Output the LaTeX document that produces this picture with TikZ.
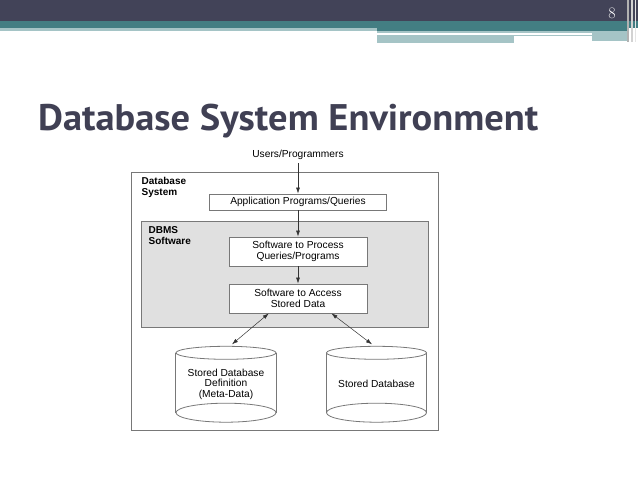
\documentclass[tikz,border=0pt]{standalone}
\usepackage{fontspec}
\setsansfont{Liberation Sans}
\newfontfamily\titlefont{PT Sans}
\usetikzlibrary{shapes.geometric,arrows.meta,positioning,backgrounds}
\definecolor{cDark}{RGB}{66,67,88}
\definecolor{cTeal}{RGB}{67,126,131}
\definecolor{cLight}{RGB}{165,196,198}
\definecolor{cTitle}{RGB}{64,64,84}
\definecolor{cPanel}{RGB}{224,224,224}
\definecolor{cEdge}{RGB}{120,120,120}
\tikzset{
  basebox/.style={rectangle,draw=cEdge,line width=0.8pt,align=center,
                  font=\sffamily\fontsize{10.2}{11.2}\selectfont,inner sep=0pt},
  progbox/.style={basebox,fill=white},
  framebox/.style={rectangle,draw=cEdge,line width=0.8pt,inner sep=0pt},
  storenode/.style={rectangle,align=center,inner sep=0pt,minimum width=100pt,
                    minimum height=75.5pt,
                    font=\sffamily\fontsize{10.2}{10.4}\selectfont},
  storeline/.style={draw=cEdge,line width=0.8pt,fill=white},
  lbl/.style={anchor=north west,align=left,inner sep=0pt,
              font=\sffamily\bfseries\fontsize{10}{11}\selectfont},
  arr/.style={-{Latex[length=6pt,width=4pt]},line width=0.6pt,black!80},
  dblarr/.style={{Latex[length=6pt,width=4pt]}-{Latex[length=6pt,width=4pt]},
                 line width=0.5pt,black!80}
}
% cylinder around a store node: top radius 6.5pt, bottom radius 9.5pt
\newcommand{\drawstore}[1]{%
  \path[storeline,draw=none] ([yshift=-6.5pt]#1.north west) rectangle ([yshift=9.5pt]#1.south east);
  \path[storeline] ([yshift=9.5pt]#1.south) ellipse [x radius=50pt,y radius=9.5pt];
  \draw[storeline] ([yshift=-6.5pt]#1.north west) -- ([yshift=9.5pt]#1.south west)
                   ([yshift=-6.5pt]#1.north east) -- ([yshift=9.5pt]#1.south east);
  \path[storeline] ([yshift=-6.5pt]#1.north) ellipse [x radius=50pt,y radius=6.5pt];
}

\begin{document}
\begin{tikzpicture}[x=1pt,y=-1pt]
  \useasboundingbox (0,0) rectangle (638,478);

  % Header bars
  \fill[cDark] (0,0) rectangle (638,21);
  \fill[cTeal] (0,21) rectangle (638,28);
  \fill[cLight] (0,28) rectangle (377,31);
  \fill[cTeal] (377,28) rectangle (627,31);
  \fill[cLight] (377,31) rectangle (627,36);
  \fill[white] (377,33.3) rectangle (592,35.3);
  \fill[cLight] (377,36) rectangle (514,43);
  \fill[cLight] (592,36) rectangle (627,41);
  \fill[gray!60] (627,0) rectangle (629,42);
  \fill[gray!35] (631,0) rectangle (633,42);
  \fill[gray!20] (635,0) rectangle (636,42);
  \node[text=white,font=\fontsize{16}{18}\selectfont] (pagenum) at (612,13) {8};

  % Title
  \node[anchor=base west,inner sep=0pt,text=cTitle,
        font=\titlefont\bfseries\fontsize{37}{42}\selectfont] (title) at (38,131)
        {\scalebox{1.04}[1]{Database System Environment}};

  % Frames
  \node[framebox,minimum width=307pt,minimum height=258pt] (dbsys) at (284.5,301) {};
  \node[framebox,fill=cPanel,minimum width=287pt,minimum height=106pt] (dbms) at (284.5,274) {};
  \node[lbl] (dbsyslbl) at (141.5,177) {Database\\System};
  \node[lbl] (dbmslbl) at (148.5,226) {DBMS\\Software};

  % Programs and software
  \node[font=\sffamily\fontsize{10.2}{11}\selectfont] (users) at (298,155) {Users/Programmers};
  \node[progbox,minimum width=177pt,minimum height=16pt] (app) at (298,202) {Application Programs/Queries};
  \node[progbox,minimum width=138pt,minimum height=29pt] (proc) at (298,251.5) {Software to Process\\Queries/Programs};
  \node[progbox,minimum width=138pt,minimum height=29pt] (acc) at (298,298.5) {Software to Access\\Stored Data};

  % Stored data
  \node[storenode] (meta) at (226,384.25) {Stored Database\\Definition\\(Meta-Data)};
  \node[storenode] (store) at (376.5,384.25) {Stored Database};
  \begin{scope}[on background layer]
    \drawstore{meta}
    \drawstore{store}
  \end{scope}

  % Arrows
  \draw[arr] (users) -- (app);
  \draw[arr] (app) -- (proc);
  \draw[arr] (proc) -- (acc);
  \draw[dblarr] (acc.207) -- ([xshift=6pt,yshift=2pt]meta.north);
  \draw[dblarr] (acc.336) -- ([xshift=-4.5pt,yshift=2pt]store.north);

\end{tikzpicture}
\end{document}
